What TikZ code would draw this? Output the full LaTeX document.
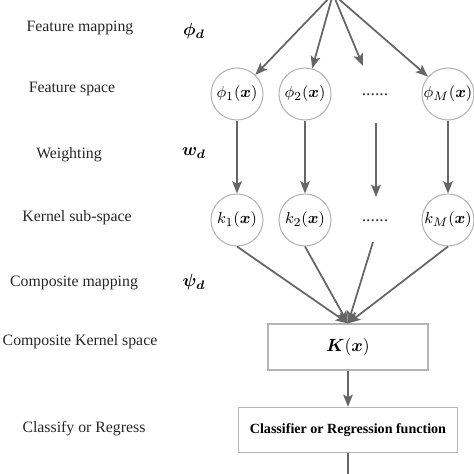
\documentclass[tikz,border=0pt]{standalone}
\usepackage{fontspec}
\usepackage{bm}
\setmainfont{Liberation Serif}
\usetikzlibrary{arrows.meta}
\definecolor{linegray}{HTML}{666666}
\definecolor{ringgray}{HTML}{B4B4B4}
\tikzset{
  ring/.style={circle,draw=ringgray,line width=0.6pt,minimum size=1.04cm,inner sep=0pt,font=\fontsize{9.5}{11}\selectfont},
  stagebox/.style={rectangle,draw=ringgray,line width=0.7pt,inner sep=0pt},
  flow/.style={draw=linegray,line width=1pt,-{Stealth[length=7pt,width=5.5pt,inset=1.5pt]}},
  tag/.style={font=\fontsize{9}{11}\selectfont,text=black!85},
  sym/.style={font=\fontsize{10}{12}\selectfont},
  gap/.style={font=\fontsize{10}{12}\selectfont,text=black!80},
}
\begin{document}
\begin{tikzpicture}[x=0.02cm,y=-0.02cm]
\useasboundingbox (0,0) rectangle (474,474);
\clip (0,0) rectangle (474,474);

% stage names
\node[tag] (tmap) at (80,28) {Feature mapping};
\node[tag] (tspace) at (72,89) {Feature space};
\node[tag] (tweight) at (69,155) {Weighting};
\node[tag] (tsub) at (77,218) {Kernel sub-space};
\node[tag] (tcomp) at (74,283) {Composite mapping};
\node[tag] (tkern) at (80,342) {Composite Kernel space};
\node[tag] (tclass) at (84,429) {Classify or Regress};

\node[sym] (sphi) at (194,31) {$\bm{\phi_d}$};
\node[sym] (sw) at (194,153) {$\bm{w_d}$};
\node[sym] (spsi) at (194,282) {$\bm{\psi_d}$};

% feature and kernel nodes
\node[ring] (phi1) at (237,94) {$\phi_1(\bm{x})$};
\node[ring] (phi2) at (305,94) {$\phi_2(\bm{x})$};
\node[gap] (phid) at (375,95) {......};
\node[ring] (phiM) at (448,94) {$\phi_M(\bm{x})$};

\node[ring] (k1) at (237,220) {$k_1(\bm{x})$};
\node[ring] (k2) at (305,220) {$k_2(\bm{x})$};
\node[gap] (kd) at (375,221) {......};
\node[ring] (kM) at (448,220) {$k_M(\bm{x})$};

\node[stagebox,minimum width=3.2cm,minimum height=0.92cm,sym] (kbox) at (348,347) {$\bm{K}(\bm{x})$};
\node[stagebox,minimum width=4.38cm,minimum height=0.9cm,font=\fontsize{8}{10}\selectfont\bfseries] (clf) at (348,430) {Classifier or Regression function};

\coordinate (src) at (333,-6);
\coordinate (gapA) at (363,66);
\coordinate (gapB) at (376,123);
\coordinate (gapC) at (376,197);
\coordinate (gapD) at (373,242);
\coordinate (sink) at (348,490);

% connectors
\foreach \n in {phi1,phi2,gapA,phiM}
 \draw[flow] (src) -- (\n);
\draw[flow] (phi1) -- (k1);
\draw[flow] (phi2) -- (k2);
\draw[flow] (gapB) -- (gapC);
\draw[flow] (phiM) -- (kM);
\foreach \n in {k1,k2,kM}
 \draw[flow] (\n.south) -- (kbox.north);
\draw[flow] (gapD) -- (kbox.north);
\draw[flow] (kbox) -- (clf);
\draw[draw=linegray,line width=1pt] (clf.south) -- (sink);

\end{tikzpicture}
\end{document}
